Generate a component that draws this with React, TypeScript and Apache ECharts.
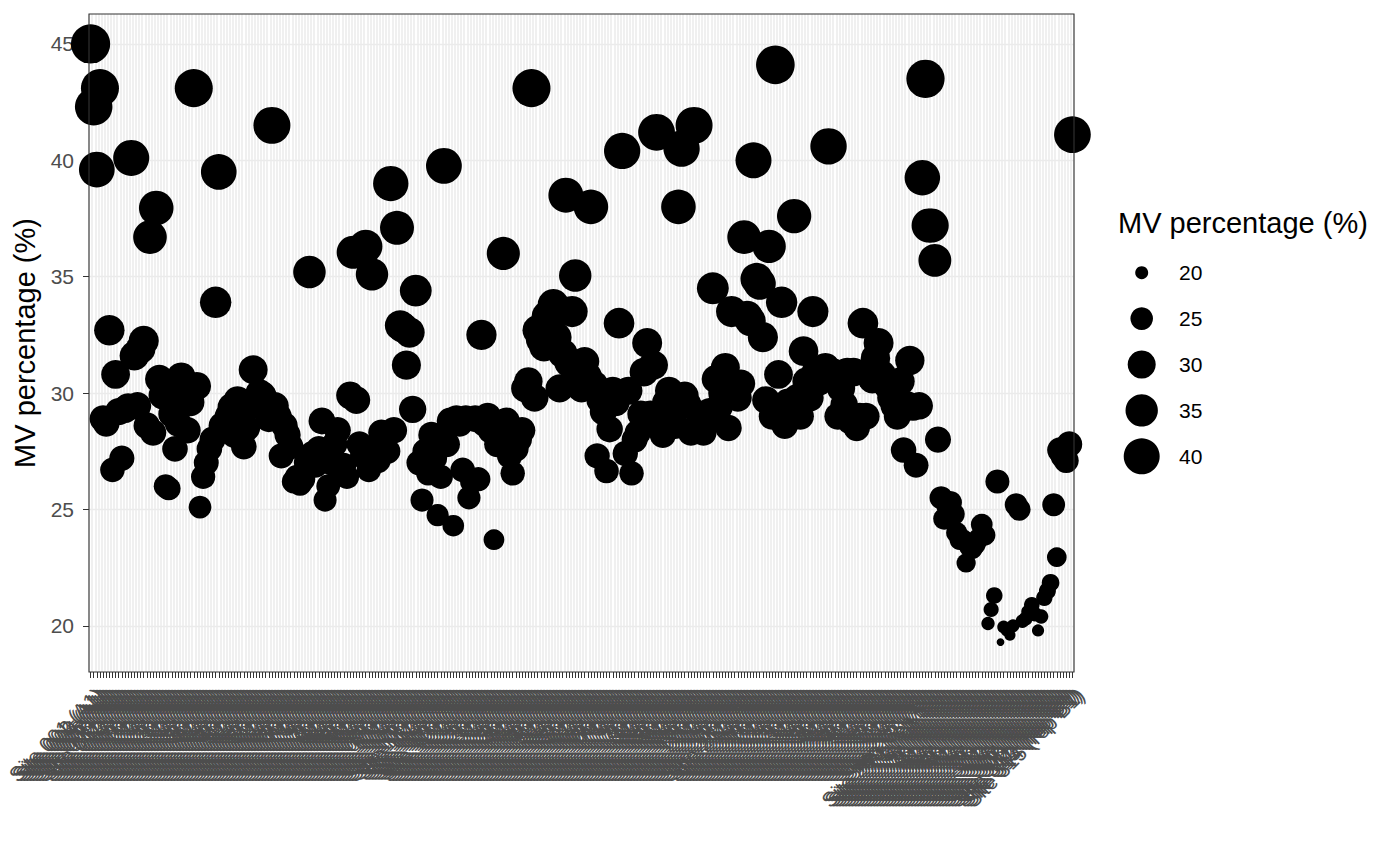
import React, { useEffect, useRef } from 'react';
import * as echarts from 'echarts';

// MV percentage per sample, read left to right off the plot
const MV_VALUES = [
  45.0, 42.3, 39.6, 43.1, 28.9, 28.7, 32.7, 26.7, 30.8, 29.2,
  27.2, 29.3, 29.4, 40.1, 31.6, 29.45, 31.9, 32.25, 28.6, 36.7,
  28.3, 37.95, 30.6, 29.9, 26.0, 25.9, 29.1, 27.6, 28.7, 30.7,
  29.8, 28.4, 29.6, 43.1, 30.3, 25.1, 26.4, 27.0, 27.6, 28.0,
  33.9, 39.5, 28.6, 28.4, 29.0, 29.4, 28.2, 29.7, 28.6, 27.7,
  28.5, 29.5, 31.0, 29.5, 30.0, 29.9, 29.4, 28.9, 41.5, 29.45,
  29.0, 27.3, 28.6, 28.2, 27.7, 26.2, 26.4, 26.1, 26.3, 27.0,
  35.2, 27.4, 26.9, 27.6, 28.8, 25.4, 26.0, 27.0, 27.8, 28.4,
  26.55, 26.9, 26.4, 29.9, 36.05, 29.7, 27.8, 27.3, 36.3, 26.7,
  35.1, 27.6, 27.1, 28.3, 28.0, 27.5, 39.0, 28.4, 37.1, 32.9,
  32.8, 31.2, 32.6, 29.3, 34.4, 27.0, 25.4, 27.5, 26.55, 28.2,
  27.2, 24.75, 26.4, 39.76, 27.8, 28.8, 24.3, 28.9, 28.7, 26.7,
  28.9, 25.5, 26.2, 28.9, 26.3, 32.5, 28.7, 29.0, 28.4, 23.7,
  27.8, 28.3, 36.0, 28.8, 27.3, 26.55, 27.6, 28.0, 28.4, 30.2,
  30.5, 43.1, 29.8, 32.7, 32.3, 32.0, 33.3, 33.2, 33.8, 32.4,
  30.2, 31.7, 38.5, 31.3, 33.5, 35.05, 31.0, 30.2, 31.35, 30.7,
  38.0, 30.35, 27.3, 29.7, 29.2, 26.65, 28.45, 30.1, 29.6, 33.0,
  40.4, 27.4, 30.1, 26.55, 28.0, 28.3, 29.1, 30.9, 32.15, 29.1,
  31.2, 41.2, 28.5, 28.2, 29.6, 30.1, 29.3, 28.6, 38.0, 40.5,
  29.9, 29.5, 28.3, 41.5, 28.6, 29.1, 28.3, 28.8, 29.2, 34.5,
  30.6, 29.4, 30.0, 31.1, 28.5, 33.5, 30.2, 29.8, 30.4, 36.7,
  33.3, 33.1, 40.0, 34.9, 34.7, 32.4, 29.7, 36.3, 29.0, 44.1,
  30.8, 33.9, 28.6, 29.6, 29.4, 37.6, 29.8, 29.0, 31.8, 30.5,
  29.8, 33.5, 30.9, 30.5, 30.8, 31.1, 40.6, 30.9, 30.7, 29.0,
  30.2, 29.5, 30.9, 28.8, 30.9, 28.5, 29.0, 33.0, 29.0, 30.9,
  30.6, 31.5, 32.15, 30.8, 30.5, 30.3, 29.8, 29.45, 29.0, 30.5,
  27.55, 29.5, 31.4, 29.4, 26.9, 29.45, 39.25, 43.5, 37.2, 37.2,
  35.7, 28.0, 25.5, 24.6, 25.2, 25.3, 24.8, 24.0, 23.7, 23.7,
  22.7, 23.4, 23.3, 23.5, 23.75, 24.35, 23.9, 20.1, 20.7, 21.3,
  26.2, 19.3, 19.95, 19.8, 19.6, 20.0, 25.2, 25.0, 20.2, 20.3,
  20.6, 20.9, 20.5, 19.8, 20.4, 21.2, 21.5, 21.85, 25.2, 22.95,
  27.55, 27.3, 27.1, 27.8, 41.1,
];

// sample groups (labels on the x axis are too dense to read in the source)
const GROUP_TAGS = ['A1', 'rep B1'];
const GROUP_SIZES = [268, 47];

const CATEGORIES: string[] = [];
GROUP_TAGS.forEach((tag, g) => {
  for (let k = 0; k < GROUP_SIZES[g]; k++) {
    const n = CATEGORIES.length + 1;
    CATEGORIES.push(`Site ${String(n).padStart(3, '0')} (${tag})`);
  }
});

const Y_TICKS = [20, 25, 30, 35, 40, 45];
const LEGEND_BREAKS = [20, 25, 30, 35, 40];

const FONT = '"Liberation Sans", Arial, Helvetica, sans-serif';
const V_MIN = Math.min(...MV_VALUES);
const V_MAX = Math.max(...MV_VALUES);

// area scale like ggplot's scale_size
const sizeFor = (v: number) =>
  7.8 + 31.4 * Math.sqrt(Math.max(0, (v - V_MIN) / (V_MAX - V_MIN)));

const App: React.FC = () => {
  const chartRef = useRef<HTMLDivElement>(null);

  useEffect(() => {
    const chart = echarts.init(chartRef.current!, undefined, { renderer: 'svg' });
    const span = V_MAX - V_MIN;

    const legendItems: any[] = [];
    LEGEND_BREAKS.forEach((b, i) => {
      const cy = 272.7 + i * 45.9;
      legendItems.push({
        type: 'circle',
        shape: { cx: 1141.7, cy, r: sizeFor(b) / 2 },
        style: { fill: '#000000' },
        silent: true,
      });
      legendItems.push({
        type: 'text',
        x: 1179,
        y: cy,
        style: {
          text: String(b),
          fill: '#000000',
          fontSize: 21,
          fontFamily: FONT,
          textAlign: 'left',
          textVerticalAlign: 'middle',
        },
        silent: true,
      });
    });

    const option = {
      animation: false,
      backgroundColor: '#ffffff',
      grid: {
        left: 89,
        right: 326,
        top: 14,
        bottom: 193,
        show: true,
        backgroundColor: '#ffffff',
        borderWidth: 0,
        containLabel: false,
        outerBoundsMode: 'none',
      },
      xAxis: {
        type: 'category',
        data: CATEGORIES,
        boundaryGap: true,
        axisLine: { show: false },
        axisTick: {
          show: true,
          alignWithLabel: true,
          interval: 0,
          length: 6,
          lineStyle: { color: '#333333', width: 1 },
        },
        axisLabel: {
          interval: 0,
          rotate: 45,
          margin: 11,
          lineHeight: 24,
          // empty first line so the label hangs below its tick, like hjust = vjust = 1
          formatter: (v: string) => `\n${v}`,
          color: '#4d4d4d',
          fontSize: 21,
          fontFamily: FONT,
        },
        splitLine: {
          show: true,
          interval: 0,
          lineStyle: { color: '#ebebeb', width: 1.5 },
        },
      },
      yAxis: {
        type: 'value',
        min: V_MIN - 0.05 * span,
        max: V_MAX + 0.05 * span,
        axisLine: { show: false },
        axisTick: {
          show: true,
          length: 6,
          customValues: Y_TICKS,
          lineStyle: { color: '#333333', width: 1 },
        },
        axisLabel: {
          customValues: Y_TICKS,
          margin: 15,
          color: '#4d4d4d',
          fontSize: 21,
          fontFamily: FONT,
        },
        splitLine: { show: true, lineStyle: { color: '#ebebeb', width: 1.4 } },
        name: 'MV percentage (%)',
        nameLocation: 'middle',
        nameGap: 44,
        nameRotate: 90,
        nameTextStyle: { fontSize: 29, color: '#000000', fontFamily: FONT },
      },
      series: [
        {
          type: 'scatter',
          data: MV_VALUES.map((v, i) => [CATEGORIES[i], v]),
          symbol: 'circle',
          symbolSize: (val: any[]) => sizeFor(val[1]),
          itemStyle: { color: '#000000', opacity: 1 },
          clip: true,
          z: 3,
        },
      ],
      graphic: [
        {
          type: 'rect',
          shape: { x: 89, y: 14, width: 985, height: 658 },
          style: { fill: 'none', stroke: '#333333', lineWidth: 1.1 },
          z: 100,
          silent: true,
        },
        {
          type: 'text',
          x: 1118,
          y: 223,
          style: {
            text: 'MV percentage (%)',
            fill: '#000000',
            fontSize: 29,
            fontFamily: FONT,
            textAlign: 'left',
            textVerticalAlign: 'middle',
          },
          silent: true,
        },
        ...legendItems,
      ],
    };

    chart.setOption(option as any);

    return () => {
      chart.dispose();
    };
  }, []);

  return (
    <div
      ref={chartRef}
      style={{ position: 'absolute', left: 0, top: 0, width: '1400px', height: '865px' }}
    />
  );
};

export default App;
